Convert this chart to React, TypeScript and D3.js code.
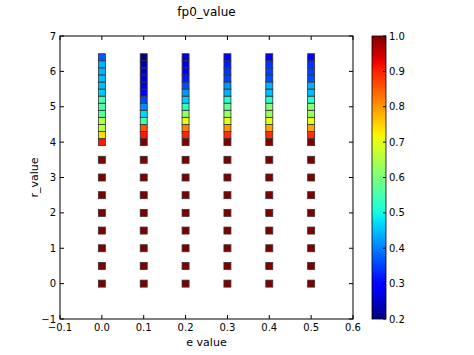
import React from "react";
import * as d3 from "d3";

const eValues = [0.0, 0.1, 0.2, 0.3, 0.4, 0.5];
const rLow = [0, 0.5, 1, 1.5, 2, 2.5, 3, 3.5];
const rHigh = [4.0, 4.2, 4.4, 4.6, 4.8, 5.0, 5.2, 5.4, 5.6, 5.8, 6.0, 6.2, 6.4];
// fp0 values for r = 4.0 .. 6.4 for each e column
const fpHigh: number[][] = [
  [0.91, 0.74, 0.66, 0.65, 0.56, 0.56, 0.55, 0.46, 0.45, 0.45, 0.44, 0.44, 0.37],
  [1.0, 0.91, 0.86, 0.55, 0.47, 0.41, 0.35, 0.3, 0.27, 0.26, 0.25, 0.23, 0.2],
  [1.0, 0.9, 0.82, 0.7, 0.63, 0.53, 0.46, 0.42, 0.36, 0.32, 0.28, 0.27, 0.26],
  [1.0, 0.89, 0.8, 0.7, 0.63, 0.58, 0.52, 0.44, 0.42, 0.35, 0.34, 0.32, 0.29],
  [1.0, 0.89, 0.79, 0.7, 0.63, 0.61, 0.52, 0.45, 0.44, 0.36, 0.35, 0.34, 0.29],
  [1.0, 0.89, 0.79, 0.7, 0.63, 0.61, 0.52, 0.45, 0.44, 0.36, 0.35, 0.34, 0.29],
];
const fpLow = 1.0;
const xTicks = [-0.1, 0.0, 0.1, 0.2, 0.3, 0.4, 0.5, 0.6];
const yTicks = [-1, 0, 1, 2, 3, 4, 5, 6, 7];
const cTicks = [0.2, 0.3, 0.4, 0.5, 0.6, 0.7, 0.8, 0.9, 1.0];

function interpSeg(seg: number[][], t: number) {
  for (let i = 1; i < seg.length; i++) {
    if (t <= seg[i][0]) {
      const [x0, y0] = seg[i - 1];
      const [x1, y1] = seg[i];
      return y0 + ((t - x0) / (x1 - x0)) * (y1 - y0);
    }
  }
  return seg[seg.length - 1][1];
}
const R = [[0, 0], [0.35, 0], [0.66, 1], [0.89, 1], [1, 0.5]];
const G = [[0, 0], [0.125, 0], [0.375, 1], [0.64, 1], [0.91, 0], [1, 0]];
const B = [[0, 0.5], [0.11, 1], [0.34, 1], [0.65, 0], [1, 0]];
function jet(t: number) {
  t = Math.max(0, Math.min(1, t));
  const r = Math.round(interpSeg(R, t) * 255);
  const g = Math.round(interpSeg(G, t) * 255);
  const b = Math.round(interpSeg(B, t) * 255);
  return `rgb(${r},${g},${b})`;
}

export default function App() {
  const W = 474, H = 355;
  const left = 60, right = 353, top = 36, bottom = 319;
  const x = d3.scaleLinear().domain([-0.1, 0.6]).range([left, right]);
  const y = d3.scaleLinear().domain([-1, 7]).range([bottom, top]);
  const cnorm = d3.scaleLinear().domain([0.2, 1.0]).range([0, 1]).clamp(true);
  const cbX = 372, cbW = 14;
  const cy = d3.scaleLinear().domain([0.2, 1.0]).range([bottom, top]);
  const font = "DejaVu Sans, sans-serif";
  const ms = 7;
  const tickFs = 10;

  const points: { e: number; r: number; v: number }[] = [];
  eValues.forEach((e, i) => {
    rLow.forEach((r) => points.push({ e, r, v: fpLow }));
    rHigh.forEach((r, j) => points.push({ e, r, v: fpHigh[i][j] }));
  });

  const stops = d3.range(0, 1.0001, 0.02);

  return (
    <svg width={W} height={H} style={{ position: "absolute", left: 0, top: 0, background: "#fff" }}>
      <defs>
        <linearGradient id="jet" x1="0" y1="1" x2="0" y2="0">
          {stops.map((s) => (
            <stop key={s} offset={s} stopColor={jet(s)} />
          ))}
        </linearGradient>
      </defs>
      <rect x={0} y={0} width={W} height={H} fill="#fff" />
      {points.map((p, k) => (
        <rect
          key={k}
          x={x(p.e) - ms / 2}
          y={y(p.r) - ms / 2}
          width={ms}
          height={ms}
          fill={jet(cnorm(p.v))}
          stroke="#333"
          strokeWidth={0.8}
        />
      ))}
      <rect x={left} y={top} width={right - left} height={bottom - top} fill="none" stroke="#000" strokeWidth={1} />
      {xTicks.map((t) => (
        <g key={t}>
          <line x1={x(t)} x2={x(t)} y1={bottom} y2={bottom - 4} stroke="#000" />
          <line x1={x(t)} x2={x(t)} y1={top} y2={top + 4} stroke="#000" />
          <text x={x(t)} y={bottom + 12} fontSize={tickFs} fontFamily={font} textAnchor="middle">
            {t.toFixed(1).replace("-", "\u2212")}
          </text>
        </g>
      ))}
      {yTicks.map((t) => (
        <g key={t}>
          <line x1={left} x2={left + 4} y1={y(t)} y2={y(t)} stroke="#000" />
          <line x1={right} x2={right - 4} y1={y(t)} y2={y(t)} stroke="#000" />
          <text x={left - 4} y={y(t) + 3.5} fontSize={tickFs} fontFamily={font} textAnchor="end">
            {String(t).replace("-", "\u2212")}
          </text>
        </g>
      ))}
      <text x={(left + right) / 2} y={16} fontSize={12} fontFamily={font} textAnchor="middle">
        fp0_value
      </text>
      <text x={(left + right) / 2} y={346} fontSize={11} fontFamily={font} textAnchor="middle">
        e value
      </text>
      <text
        transform={`translate(38,${(top + bottom) / 2}) rotate(-90)`}
        fontSize={11}
        fontFamily={font}
        textAnchor="middle"
      >
        r_value
      </text>
      <rect x={cbX} y={top} width={cbW} height={bottom - top} fill="url(#jet)" stroke="#000" strokeWidth={0.8} />
      {cTicks.map((t) => (
        <g key={t}>
          <line x1={cbX + cbW} x2={cbX + cbW - 3} y1={cy(t)} y2={cy(t)} stroke="#000" />
          <text x={cbX + cbW + 3} y={cy(t) + 3.5} fontSize={tickFs} fontFamily={font} textAnchor="start">
            {t.toFixed(1)}
          </text>
        </g>
      ))}
    </svg>
  );
}
